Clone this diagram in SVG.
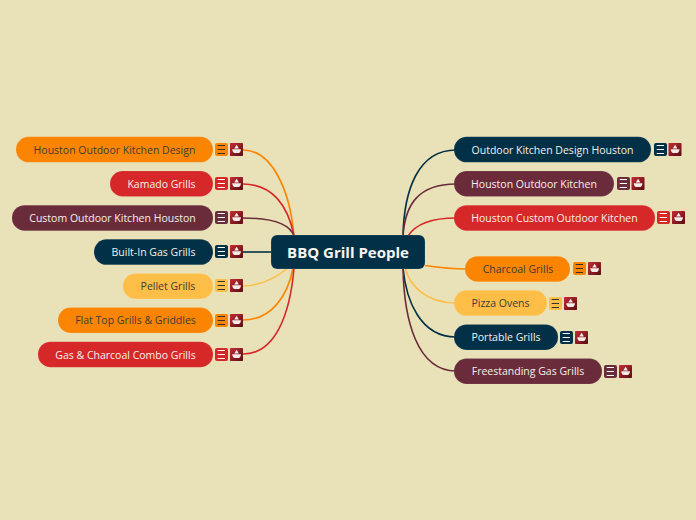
<svg xmlns="http://www.w3.org/2000/svg" width="696" height="520" viewBox="0 0 696 520">
<style>
text{font-family:"Open Sans","Noto Sans",sans-serif;font-size:10.5px;text-anchor:middle}
.l{fill:#f5f0e8}.d{fill:#3c3c3c}
.or{fill:#fb8500}.re{fill:#d62828}.ma{fill:#6a2c3a}.na{fill:#023047}.ye{fill:#fdbe48}
.p{stroke:#fff;stroke-opacity:.12;stroke-width:.8}
#connectors path{fill:none;stroke-width:1.6}
.so{stroke:#fb8500}.sr{stroke:#d62828}.sm{stroke:#6a2c3a}.sn{stroke:#023047}.sy{stroke:#fdbe48}
</style>
<defs>
<linearGradient id="g" x1="0" y1="0" x2="1" y2="1"><stop offset="0" stop-color="#c42c35"/><stop offset="1" stop-color="#5a0d12"/></linearGradient>
<g id="pic"><rect width="13" height="13" rx=".8" fill="url(#g)"/><path d="M6.600 1.800L8.900 5.500H4.300Z" fill="#f4ece6"/><path d="M2.200 6.300H11C10.800 8.200 10 9.800 8.900 10H4.300C3.200 9.800 2.400 8.200 2.200 6.300Z" fill="#f4ece6"/></g>
<g id="ld"><rect width="13" height="13" rx="2"/><path stroke="#333" d="M2.700 2.500H10M2.700 6.500H10M2.700 10.500H10"/></g>
<g id="ll"><rect width="13" height="13" rx="2"/><path stroke="#fff" d="M2.700 2.500H10M2.700 6.500H10M2.700 10.500H10"/></g>
</defs>
<rect width="696" height="520" fill="#e9e1b7"/>
<g id="connectors">
<path class="so" d="M294 236C290 190 272 150 243 150"/>
<path class="sr" d="M294 236C288 205 272 184 243 184"/>
<path class="sm" d="M294 236C290 225 275 218 243 218"/>
<path class="sn" d="M271 252H243"/>
<path class="sy" d="M288 268C278 276 262 286 243 286"/>
<path class="so" d="M293 268C288 295 272 320 243 320"/>
<path class="sr" d="M294 268C290 315 275 354 243 354"/>
<path class="sn" d="M403 236C404 190 418 150 456 150"/>
<path class="sm" d="M403 236C405 205 418 184 456 184"/>
<path class="sr" d="M408 236C415 225 430 218 456 218"/>
<path class="so" d="M425 265.500C435 267 450 269 467 269"/>
<path class="sy" d="M405 268C410 285 425 303 456 303"/>
<path class="sn" d="M403 268C406 300 420 337 456 337"/>
<path class="sm" d="M403 268C404 320 417 371 456 371"/>
</g>
<g id="center"><rect x="271" y="235" width="154" height="34" rx="6" fill="#023047" stroke="#fff" stroke-opacity=".15"/><text x="348" y="258" style="font-size:15px;font-weight:700;fill:#f8f5ee">BBQ Grill People</text></g>

<g id="n1"><rect class="or p" x="16" y="136.800" width="197" height="25.500" rx="12.500"/><text class="d" x="114.500" y="154">Houston Outdoor Kitchen Design</text><use class="or" href="#ld" x="215" y="143"/><use href="#pic" x="230" y="143"/></g>
<g id="n2"><rect class="re p" x="110" y="171" width="103" height="25.500" rx="12.500"/><text class="l" x="161.500" y="188">Kamado Grills</text><use class="re" href="#ll" x="215" y="177"/><use href="#pic" x="230" y="177"/></g>
<g id="n3"><rect class="ma p" x="12" y="205.200" width="201" height="25.500" rx="12.500"/><text class="l" x="112.500" y="222">Custom Outdoor Kitchen Houston</text><use class="ma" href="#ll" x="215" y="211"/><use href="#pic" x="230" y="211"/></g>
<g id="n4"><rect class="na p" x="94" y="239.300" width="119" height="25.500" rx="12.500"/><text class="l" x="153.500" y="256">Built-In Gas Grills</text><use class="na" href="#ll" x="215" y="245"/><use href="#pic" x="230" y="245"/></g>
<g id="n5"><rect class="ye p" x="123" y="273.400" width="90" height="25.500" rx="12.500"/><text class="d" x="168" y="290">Pellet Grills</text><use class="ye" href="#ld" x="215" y="279"/><use href="#pic" x="230" y="279"/></g>
<g id="n6"><rect class="or p" x="58" y="307.500" width="155" height="25.500" rx="12.500"/><text class="d" x="135.500" y="324">Flat Top Grills &amp; Griddles</text><use class="or" href="#ld" x="215" y="314"/><use href="#pic" x="230" y="314"/></g>
<g id="n7"><rect class="re p" x="38" y="341.700" width="175" height="25.500" rx="12.500"/><text class="l" x="125.500" y="359">Gas &amp; Charcoal Combo Grills</text><use class="re" href="#ll" x="215" y="348"/><use href="#pic" x="230" y="348"/></g>

<g id="n8"><rect class="na p" x="454" y="136.800" width="197" height="25.500" rx="12.500"/><text class="l" x="552.500" y="154">Outdoor Kitchen Design Houston</text><use class="na" href="#ll" x="654" y="143"/><use href="#pic" x="668.500" y="143"/></g>
<g id="n9"><rect class="ma p" x="454" y="171" width="160" height="25.500" rx="12.500"/><text class="l" x="534" y="188">Houston Outdoor Kitchen</text><use class="ma" href="#ll" x="617" y="177"/><use href="#pic" x="631.500" y="177"/></g>
<g id="n10"><rect class="re p" x="454" y="205.200" width="201" height="25.500" rx="12.500"/><text class="l" x="554.500" y="222">Houston Custom Outdoor Kitchen</text><use class="re" href="#ll" x="657" y="211"/><use href="#pic" x="672" y="211"/></g>
<g id="n11"><rect class="or p" x="465" y="256.200" width="105" height="25.500" rx="12.500"/><text class="d" x="518" y="273">Charcoal Grills</text><use class="or" href="#ld" x="573" y="262"/><use href="#pic" x="588" y="262"/></g>
<g id="n12"><rect class="ye p" x="454" y="290.300" width="93" height="25.500" rx="12.500"/><text class="d" x="500.500" y="307">Pizza Ovens</text><use class="ye" href="#ld" x="549" y="297"/><use href="#pic" x="564" y="297"/></g>
<g id="n13"><rect class="na p" x="454" y="324.400" width="104" height="25.500" rx="12.500"/><text class="l" x="506" y="341">Portable Grills</text><use class="na" href="#ll" x="560" y="331"/><use href="#pic" x="575" y="331"/></g>
<g id="n14"><rect class="ma p" x="454" y="358.500" width="148" height="25.500" rx="12.500"/><text class="l" x="528" y="375">Freestanding Gas Grills</text><use class="ma" href="#ll" x="604" y="365"/><use href="#pic" x="619" y="365"/></g>
</svg>
